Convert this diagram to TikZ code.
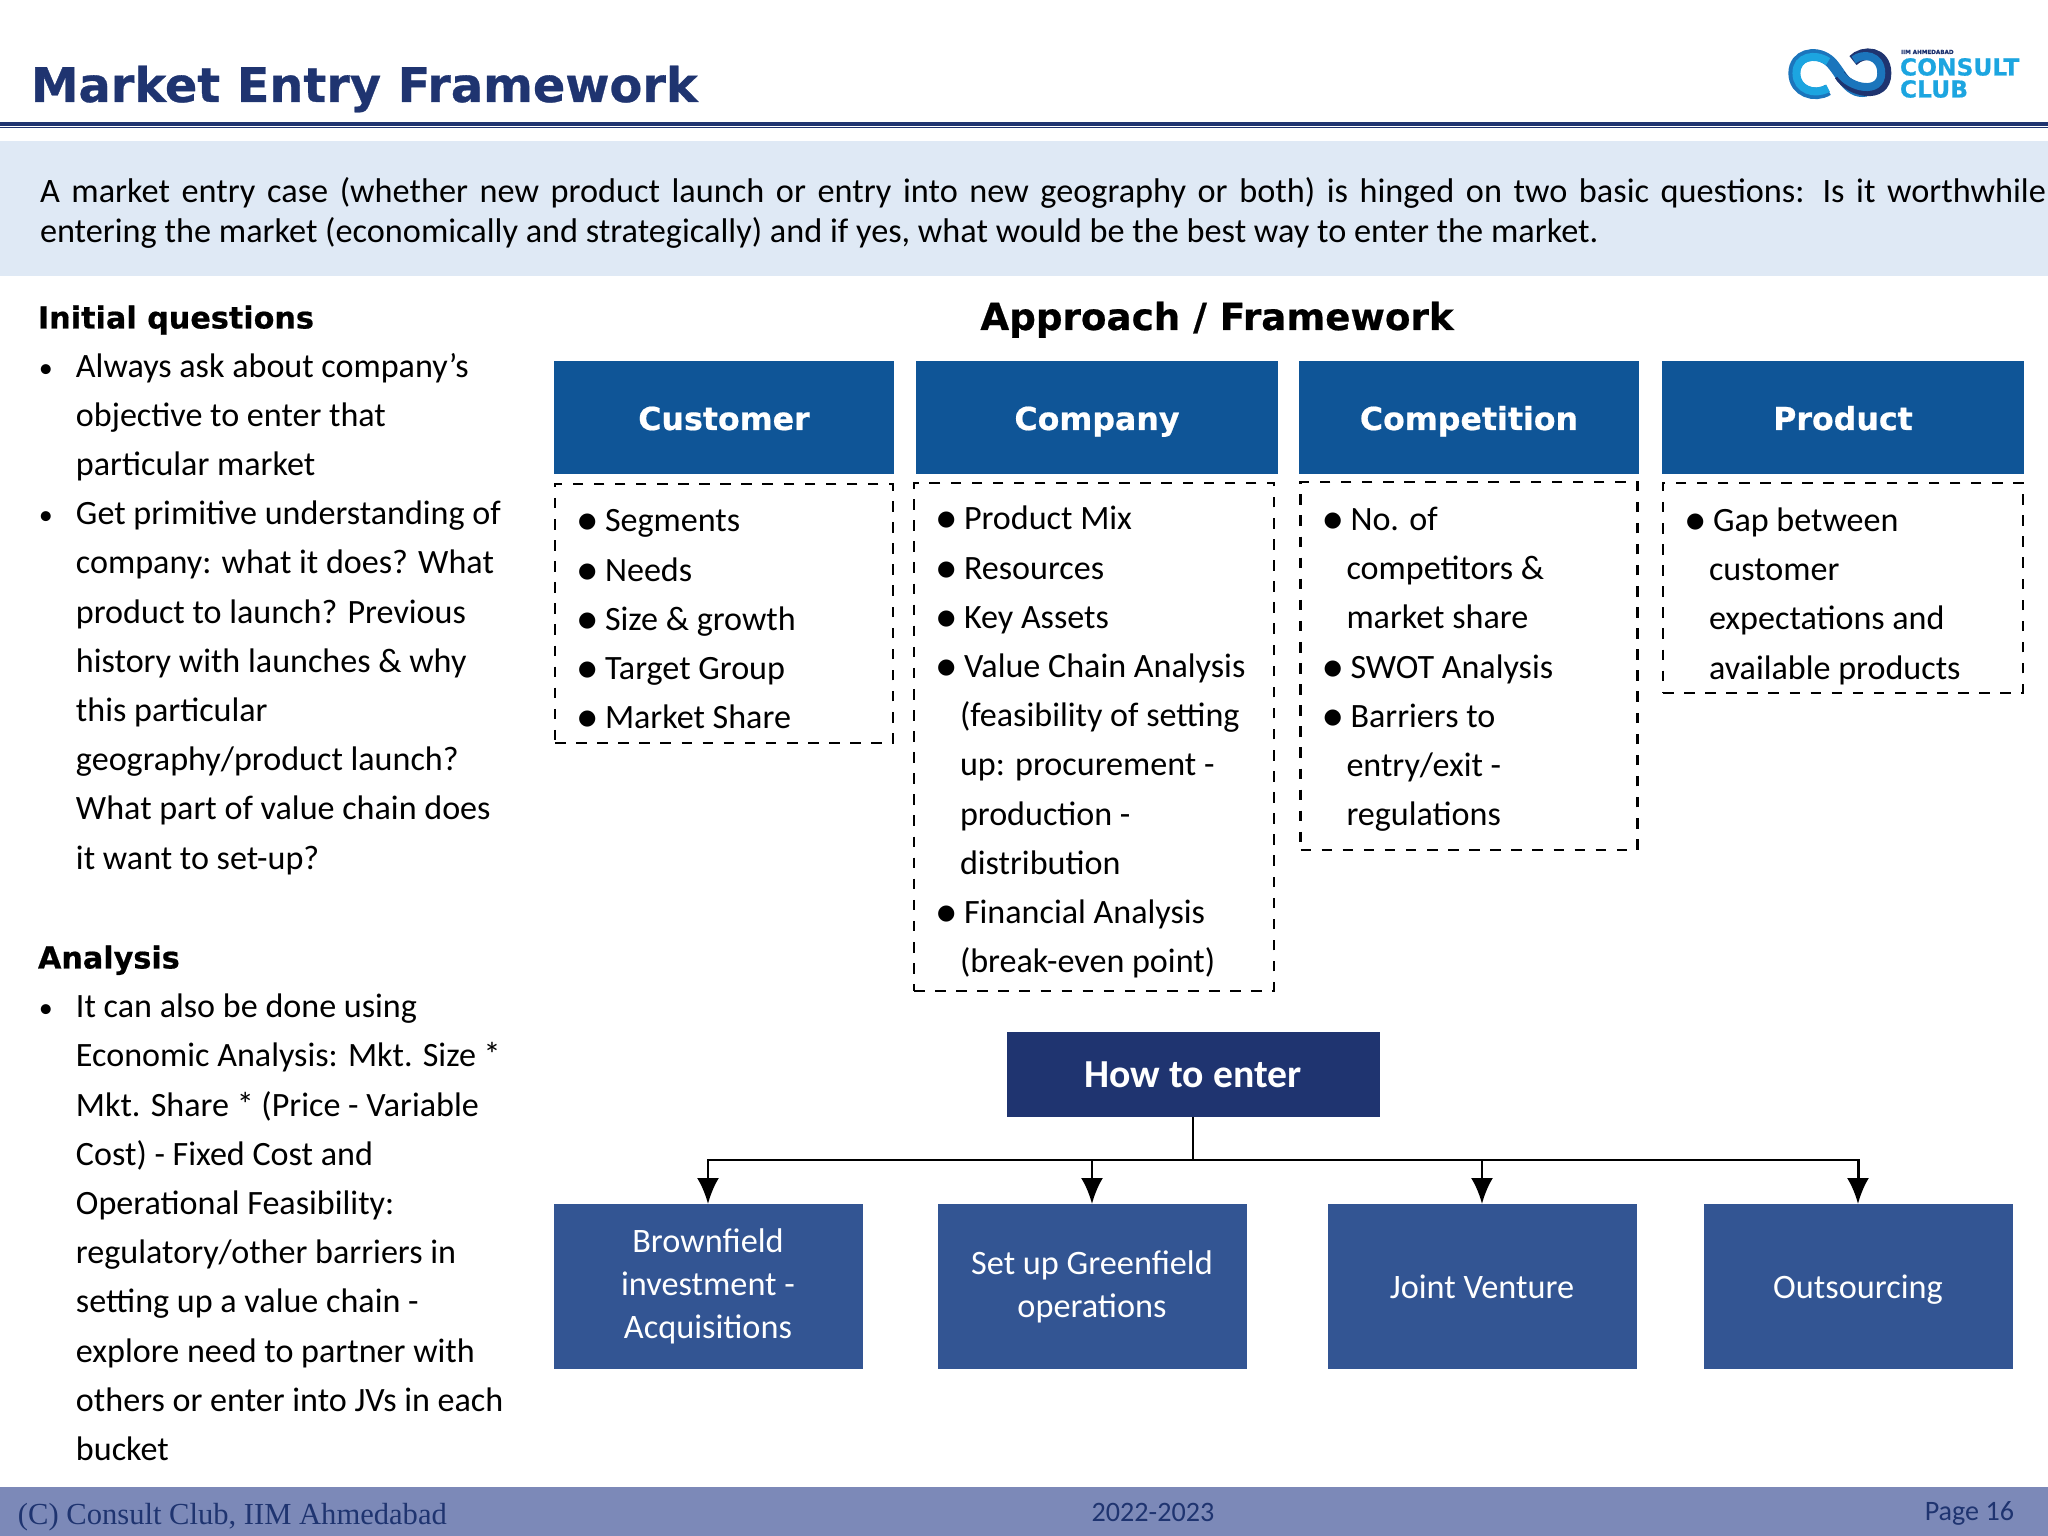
\documentclass[tikz,border=0pt]{standalone}
\usepackage{fontspec}
\setmainfont{Carlito}
\newfontfamily\headfont[BoldFeatures={FakeBold=0.6}]{DejaVu Sans}
\newfontfamily\footfont{Liberation Serif}
\usepackage{xcolor}
\usetikzlibrary{arrows.meta,positioning,calc}
\definecolor{ClubNavy}{HTML}{1F3470}
\definecolor{ClubBlue}{HTML}{0F5597}
\definecolor{ClubSlate}{HTML}{335593}
\definecolor{ClubBand}{HTML}{DFE9F5}
\definecolor{ClubFoot}{HTML}{7C89B8}
\definecolor{ClubCyan}{HTML}{1CA5E0}
\definecolor{ClubDeep}{HTML}{1B75BC}
\newcommand{\pointmark}{\makebox[0.27cm][l]{\raisebox{0.04cm}{\headfont\fontsize{6}{10}\selectfont ●}}}
\newcommand{\pointgap}{\hspace*{0.23cm}}
\newcommand{\sidemark}{\makebox[0.37cm][l]{\fontsize{8}{10}\selectfont •}}
\newcommand{\sidegap}{\hspace*{0.37cm}}
\tikzset{
  every node/.style={outer sep=0pt},
  headbar/.style={fill=ClubBlue,text=white,inner sep=0pt,minimum height=1.13cm,
    text height=0.31cm,text depth=0.06cm,font=\headfont\bfseries\fontsize{9}{12}\selectfont},
  listbox/.style={draw=black,dashed,line width=0.6pt,inner xsep=0.23cm,inner ysep=0pt,align=flush left,
    execute at begin node={\rule{0pt}{#1}},font=\fontsize{9.7}{14}\selectfont},
  listbox/.default=0.34cm,
  sidehead/.style={inner sep=0pt,anchor=north west,font=\headfont\bfseries\fontsize{8.6}{12}\selectfont},
  sidelist/.style={inner sep=0pt,align=left,font=\fontsize{9.7}{14}\selectfont},
  routebox/.style={fill=ClubSlate,text=white,inner sep=0pt,align=center,minimum width=3.09cm,
    minimum height=1.65cm,font=\fontsize{9.75}{12.2}\selectfont},
  flow/.style={-{Latex[length=2.6mm,width=2.2mm]},line width=0.85pt,draw=black}
}
\begin{document}
\begin{tikzpicture}
  \useasboundingbox (0,0) rectangle (20.48,-15.36);
  % top of the page
  \node[inner sep=0pt,anchor=base west,text=ClubNavy,font=\headfont\bfseries\fontsize{13.6}{16}\selectfont] (title) at (0.31,-1.02) {Market Entry Framework};
  \fill[ClubNavy] (0,-1.22) rectangle (20.48,-1.26);
  \fill[ClubNavy] (0,-1.27) rectangle (20.48,-1.285);
  \node[fill=ClubBand,inner sep=0pt,minimum width=20.48cm,minimum height=1.35cm,anchor=north west] (band) at (0,-1.41) {};
  \node[inner sep=0pt,anchor=west,align=left,font=\fontsize{9.75}{11.5}\selectfont] (intro) at (0.40,-2.13) {\makebox[20.06cm][s]{A market entry case (whether new product launch or entry into new geography or both) is hinged on two basic questions: Is it worthwhile}\\entering the market (economically and strategically) and if yes, what would be the best way to enter the market.};
  % logo
  \begin{scope}[shift={(17,-0.2)},x=0.00333cm,y=-0.00333cm]
    \draw[ClubDeep,line width=1.15mm] (385,210) .. controls (345,235) and (283,215) .. (283,160) .. controls (283,105) and (345,90) .. (385,120) .. controls (420,145) and (440,225) .. (500,213);
    \draw[ClubCyan,line width=0.8mm] (385,205) .. controls (345,228) and (290,210) .. (290,160) .. controls (290,110) and (345,98) .. (385,125);
    \draw[ClubNavy,line width=1.15mm] (420,165) .. controls (450,215) and (558,240) .. (558,160) .. controls (558,95) and (490,90) .. (460,122);
    \draw[ClubDeep,line width=0.8mm] (420,160) .. controls (450,205) and (545,225) .. (545,160) .. controls (545,105) and (490,98) .. (462,120);
  \end{scope}
  \node[inner sep=0pt,anchor=base west,text=ClubNavy,font=\headfont\bfseries\fontsize{1.6}{2}\selectfont] (logotop) at (19.01,-0.54) {IIM AHMEDABAD};
  \node[inner sep=0pt,anchor=base west,text=ClubCyan,font=\headfont\bfseries\fontsize{6.65}{7}\selectfont] (logoa) at (19.0,-0.755) {CONSULT};
  \node[inner sep=0pt,anchor=base west,text=ClubCyan,font=\headfont\bfseries\fontsize{6.65}{7}\selectfont] (logob) at (19.0,-0.975) {CLUB};
  % left column
  \node[sidehead] (initial) at (0.38,-3.055) {Initial questions};
  \node[sidelist,anchor=north west] (initiallist) at (0.39,-3.53) {\sidemark Always ask about company’s\\
    \sidegap objective to enter that\\
    \sidegap particular market\\
    \sidemark Get primitive understanding of\\
    \sidegap company: what it does? What\\
    \sidegap product to launch? Previous\\
    \sidegap history with launches \& why\\
    \sidegap this particular\\
    \sidegap geography/product launch?\\
    \sidegap What part of value chain does\\
    \sidegap it want to set-up?};
  \node[sidehead] (analysis) at (0.38,-9.455) {Analysis};
  \node[sidelist,anchor=north west] (analysislist) at (0.39,-9.94) {\sidemark It can also be done using\\
    \sidegap Economic Analysis: Mkt. Size *\\
    \sidegap Mkt. Share * (Price - Variable\\
    \sidegap Cost) - Fixed Cost and\\
    \sidegap Operational Feasibility:\\
    \sidegap regulatory/other barriers in\\
    \sidegap setting up a value chain -\\
    \sidegap explore need to partner with\\
    \sidegap others or enter into JVs in each\\
    \sidegap bucket};
  % framework
  \node[inner sep=0pt,anchor=base,font=\headfont\bfseries\fontsize{10.6}{13}\selectfont] (approach) at (12.17,-3.30) {Approach / Framework};
  \node[headbar,minimum width=3.40cm,anchor=north west] (customer) at (5.54,-3.61) {Customer};
  \node[headbar,minimum width=3.62cm,right=0.22cm of customer] (company) {Company};
  \node[headbar,minimum width=3.40cm,right=0.21cm of company] (competition) {Competition};
  \node[headbar,minimum width=3.62cm,right=0.23cm of competition] (product) {Product};
  \node[listbox,text width=2.92cm,minimum height=2.59cm,below=0.10cm of customer] (customerlist) {\pointmark Segments\\
    \pointmark Needs\\
    \pointmark Size \& growth\\
    \pointmark Target Group\\
    \pointmark Market Share};
  \node[listbox,text width=3.14cm,minimum height=5.08cm,below=0.09cm of company,xshift=-0.03cm] (companylist) {\pointmark Product Mix\\
    \pointmark Resources\\
    \pointmark Key Assets\\
    \pointmark Value Chain Analysis\\
    \pointgap (feasibility of setting\\
    \pointgap up: procurement -\\
    \pointgap production -\\
    \pointgap distribution\\
    \pointmark Financial Analysis\\
    \pointgap (break-even point)};
  \node[listbox=0.30cm,text width=2.91cm,minimum height=3.68cm,below=0.08cm of competition] (competitionlist) {\pointmark No. of\\
    \pointgap competitors \&\\
    \pointgap market share\\
    \pointmark SWOT Analysis\\
    \pointmark Barriers to\\
    \pointgap entry/exit -\\
    \pointgap regulations};
  \node[listbox=0.40cm,text width=3.14cm,minimum height=2.10cm,below=0.09cm of product] (productlist) {\pointmark Gap between\\
    \pointgap customer\\
    \pointgap expectations and\\
    \pointgap available products};
  % how to enter
  \node[fill=ClubNavy,text=white,inner sep=0pt,minimum width=3.73cm,minimum height=0.85cm,font=\bfseries\fontsize{11.3}{13}\selectfont] (enter) at (11.93,-10.745) {How to enter};
  \node[routebox,anchor=north west] (brownfield) at (5.535,-12.04) {Brownfield\\investment -\\Acquisitions};
  \node[routebox,right=0.75cm of brownfield] (greenfield) {Set up Greenfield\\operations};
  \node[routebox,right=0.81cm of greenfield] (venture) {Joint Venture};
  \node[routebox,text depth=0pt,right=0.67cm of venture] (outsourcing) {Outsourcing};
  \coordinate (bus) at (11.93,-11.60);
  \draw[line width=0.85pt] (enter.south) -- (bus);
  \draw[flow] (bus) -| (brownfield.north);
  \draw[flow] (bus) -| (greenfield.north);
  \draw[flow] (bus) -| (venture.north);
  \draw[flow] (bus) -| (outsourcing.north);
  % footer
  \node[fill=ClubFoot,inner sep=0pt,minimum width=20.48cm,minimum height=0.49cm,anchor=south west] (footbar) at (0,-15.36) {};
  \node[inner sep=0pt,anchor=west,text=ClubNavy,font=\footfont\fontsize{8.7}{10}\selectfont] (footleft) at (0.18,-15.17) {(C) Consult Club, IIM Ahmedabad};
  \node[inner sep=0pt,text=ClubNavy,font=\fontsize{8}{10}\selectfont] (footmid) at (11.53,-15.12) {2022-2023};
  \node[inner sep=0pt,anchor=east,text=ClubNavy,font=\fontsize{8}{10}\selectfont] (footright) at (20.14,-15.13) {Page 16};
\end{tikzpicture}
\end{document}
